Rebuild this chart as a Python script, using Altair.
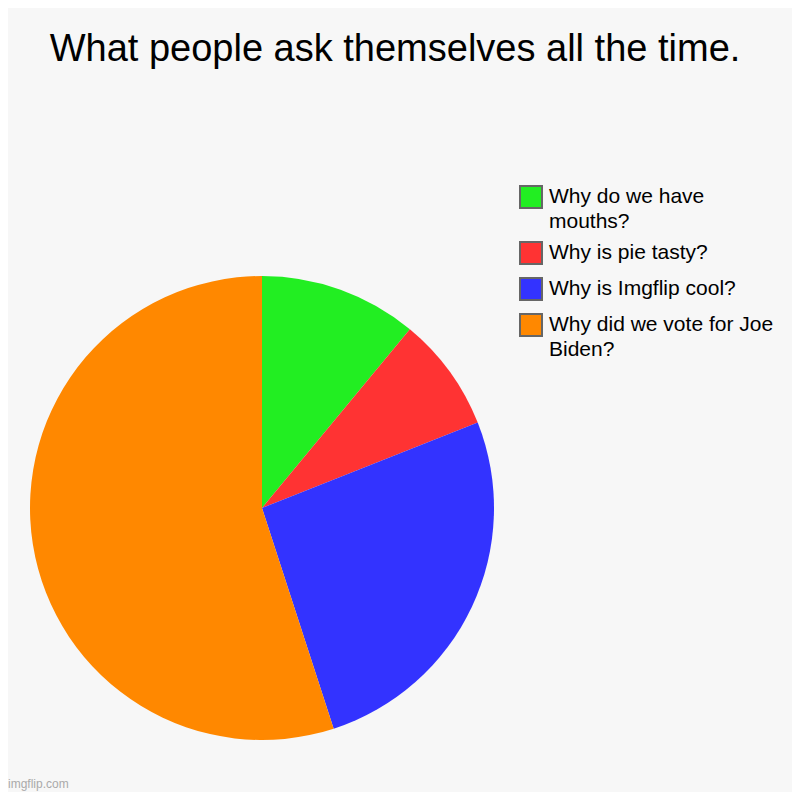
import altair as alt
import pandas as pd

categories = ["Why do we have mouths?", "Why is pie tasty?", "Why is Imgflip cool?", "Why did we vote for Joe Biden?"]
label_lines = [["Why do we have", "mouths?"], ["Why is pie tasty?"], ["Why is Imgflip cool?"], ["Why did we vote for Joe", "Biden?"]]
values = [11, 8, 26, 55]
colors = ["#22ee22", "#ff3333", "#3333ff", "#ff8800"]
title_text = "What people ask themselves all the time."
watermark = "imgflip.com"

df = pd.DataFrame({"cat": categories, "value": values, "order": list(range(len(categories)))})

label_expr = " : ".join(
    [f"datum.label == '{c}' ? {l!r}" for c, l in zip(categories, label_lines)]
) + " : datum.label"

pie = alt.Chart(df).mark_arc(radius=232, stroke=None).encode(
    theta=alt.Theta("value:Q", stack=True),
    order=alt.Order("order:O"),
    color=alt.Color(
        "cat:N",
        scale=alt.Scale(domain=categories, range=colors),
        sort=categories,
        legend=alt.Legend(
            title=None,
            orient="none",
            legendX=511,
            legendY=177,
            symbolType="square",
            symbolSize=484,
            symbolStrokeColor="#666666",
            symbolStrokeWidth=2,
            symbolOpacity=1,
            labelFont="Liberation Sans",
            labelFontSize=21,
            labelColor="#000000",
            labelLimit=300,
            labelOffset=6,
            rowPadding=6,
            labelExpr=label_expr,
        ),
    ),
    x=alt.value(254),
    y=alt.value(500),
)

title = alt.Chart(pd.DataFrame({"t": [title_text]})).mark_text(
    font="Liberation Sans", fontSize=38, color="#000000", align="center", baseline="alphabetic"
).encode(text="t:N", x=alt.value(387), y=alt.value(53))

wm = alt.Chart(pd.DataFrame({"t": [watermark]})).mark_text(
    font="Liberation Sans", fontSize=12, color="#aaaaaa", align="left", baseline="alphabetic"
).encode(text="t:N", x=alt.value(0), y=alt.value(780))

chart = alt.layer(pie, title, wm).properties(
    width=784, height=784, background="#f7f7f7", padding=0,
    autosize=alt.AutoSizeParams(type="none"),
).configure(
    view={"stroke": None},
    style={"guide-label": {"lineHeight": 25}},
)

chart.save("out.html", embed_options={"renderer": "svg", "actions": False})
